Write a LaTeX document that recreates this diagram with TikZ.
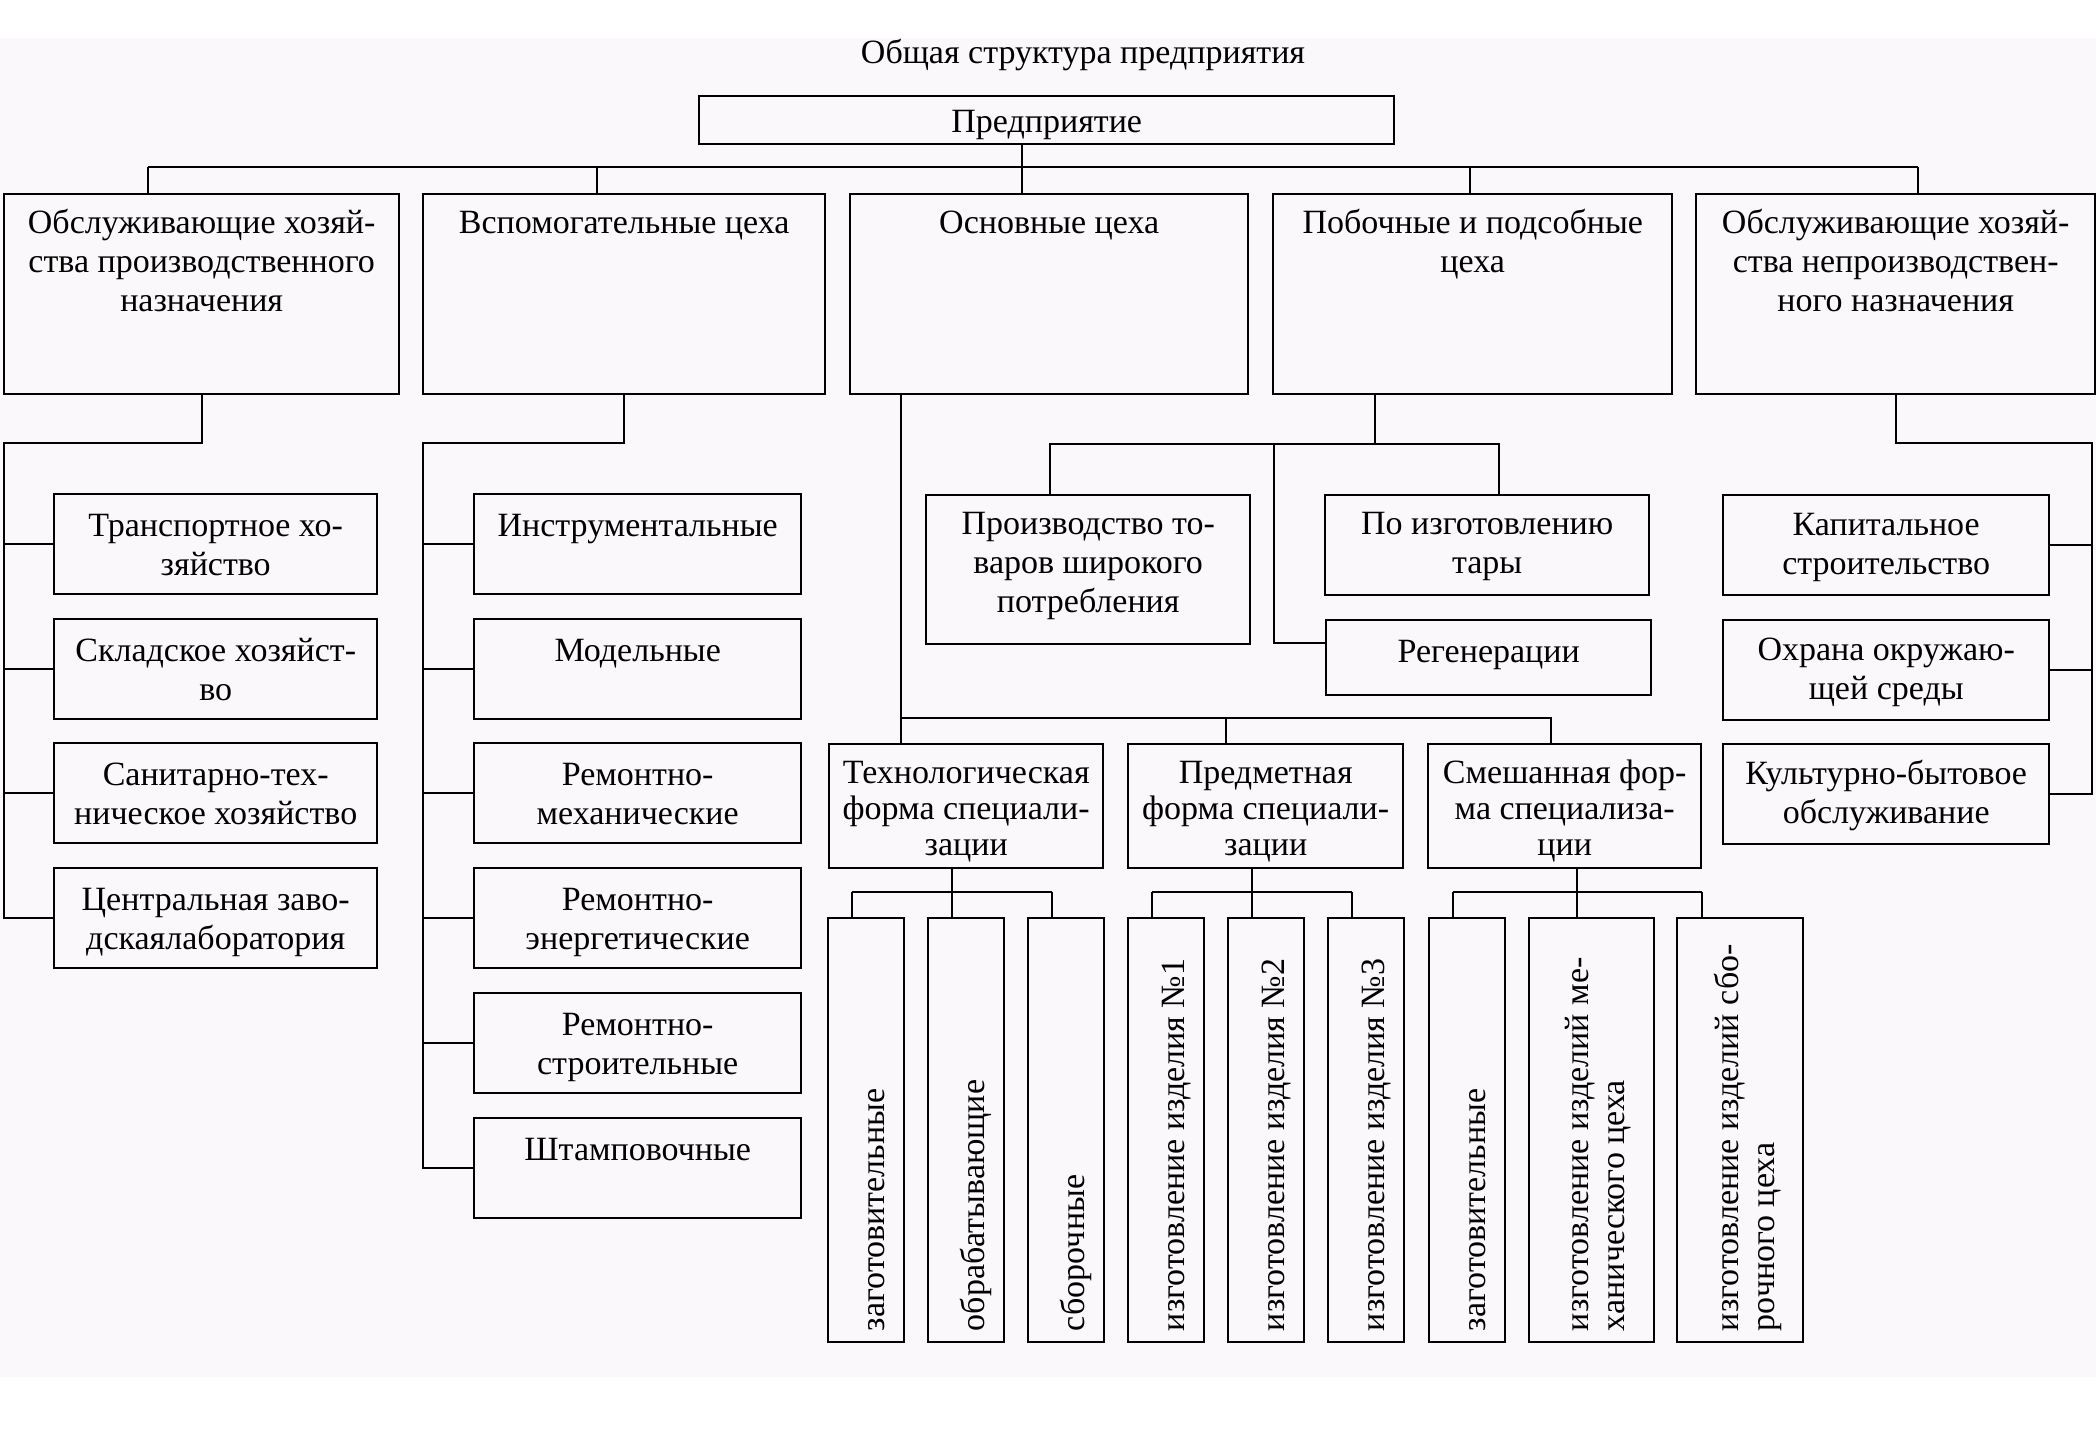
\documentclass[tikz,border=0pt]{standalone}
\usepackage{fontspec}
\setmainfont{Liberation Serif}
\usetikzlibrary{calc}

\newcommand{\cellfont}{\fontsize{17pt}{19.5pt}\selectfont}
\newcommand{\formfont}{\fontsize{17pt}{18pt}\selectfont}
\newcommand{\boxtxt}[4]{\parbox[c][#2][t]{#1}{\centering\vspace*{#3}\strut#4\par}}

\definecolor{paper}{RGB}{251,248,251}

\tikzset{
  cell/.style={draw, line width=1.2pt, inner sep=0pt, anchor=north west, font=\cellfont},
  bar/.style={line width=1.2pt},
  vtext/.style={rotate=90, anchor=west, align=left, inner sep=0pt, font=\cellfont},
}

\begin{document}
\begin{tikzpicture}[x=1pt, y=-1pt]
  \useasboundingbox (0,0) rectangle (1048,720);
  \fill[paper] (0,19) rectangle (1048,688.5);

  % title and enterprise
  \node[font=\cellfont, anchor=base] (title) at (541.5,31.5) {Общая структура предприятия};
  \node[cell] (ent) at (349,47.5) {\boxtxt{347.5pt}{24pt}{4.6pt}{Предприятие}};

  % main groups
  \node[cell] (b1) at (1.5,96.5) {\boxtxt{197.5pt}{100pt}{6pt}{Обслуживающие хозяй-\\ства производственного\\назначения}};
  \node[cell] (b2) at (211,96.5) {\boxtxt{201pt}{100pt}{6pt}{Вспомогательные цеха}};
  \node[cell] (b3) at (424.5,96.5) {\boxtxt{199pt}{100pt}{6pt}{Основные цеха}};
  \node[cell] (b4) at (636,96.5) {\boxtxt{199.5pt}{100pt}{6pt}{Побочные и подсобные\\цеха}};
  \node[cell] (b5) at (847.5,96.5) {\boxtxt{199.5pt}{100pt}{6pt}{Обслуживающие хозяй-\\ства непроизводствен-\\ного назначения}};

  \coordinate (j1) at (74,83.5);
  \coordinate (j2) at (298.5,83.5);
  \coordinate (j3) at (511,83.5);
  \coordinate (j4) at (735,83.5);
  \coordinate (j5) at (959,83.5);
  \draw[bar] (j1) -- (j5);
  \draw[bar] (j3 |- ent.south) -- (j3);
  \foreach \k in {1,...,5}
    \draw[bar] (j\k) -- (j\k |- b\k.north);

  % production service
  \node[cell] (a1) at (26.5,246.5) {\boxtxt{161.5pt}{50pt}{7.3pt}{Транспортное хо-\\зяйство}};
  \node[cell] (a2) at (26.5,309) {\boxtxt{161.5pt}{50pt}{7.3pt}{Складское хозяйст-\\во}};
  \node[cell] (a3) at (26.5,371) {\boxtxt{161.5pt}{50pt}{7.3pt}{Санитарно-тех-\\ническое хозяйство}};
  \node[cell] (a4) at (26.5,433.5) {\boxtxt{161.5pt}{50pt}{7.3pt}{Центральная заво-\\дскаялаборатория}};

  \coordinate (l1) at (2,221.5);
  \draw[bar] (b1.south) |- (l1) -- (l1 |- a4.west) -- (a4.west);
  \foreach \k in {1,2,3}
    \draw[bar] (l1 |- a\k.west) -- (a\k.west);

  % auxiliary shops
  \node[cell] (v1) at (236.5,246.5) {\boxtxt{163.5pt}{50pt}{7.3pt}{Инструментальные}};
  \node[cell] (v2) at (236.5,309) {\boxtxt{163.5pt}{50pt}{7.3pt}{Модельные}};
  \node[cell] (v3) at (236.5,371) {\boxtxt{163.5pt}{50pt}{7.3pt}{Ремонтно-\\механические}};
  \node[cell] (v4) at (236.5,433.5) {\boxtxt{163.5pt}{50pt}{7.3pt}{Ремонтно-\\энергетические}};
  \node[cell] (v5) at (236.5,496) {\boxtxt{163.5pt}{50pt}{7.3pt}{Ремонтно-\\строительные}};
  \node[cell] (v6) at (236.5,558.5) {\boxtxt{163.5pt}{50pt}{7.3pt}{Штамповочные}};

  \coordinate (l2) at (211.5,221.5);
  \draw[bar] (b2.south) |- (l2) -- (l2 |- v6.west) -- (v6.west);
  \foreach \k in {1,...,5}
    \draw[bar] (l2 |- v\k.west) -- (v\k.west);

  % side shops
  \node[cell] (pr) at (462.5,247) {\boxtxt{162pt}{74.5pt}{5.8pt}{Производство то-\\варов широкого\\потребления}};
  \node[cell] (ta) at (662,247) {\boxtxt{162pt}{50pt}{5.8pt}{По изготовлению\\тары}};
  \node[cell] (rg) at (662.5,309.5) {\boxtxt{162.5pt}{37.5pt}{7.3pt}{Регенерации}};

  \coordinate (p0) at (687.5,222);
  \coordinate (p1) at (525,222);
  \coordinate (p2) at (749.5,222);
  \coordinate (p3) at (637,222);
  \draw[bar] (p0 |- b4.south) -- (p0);
  \draw[bar] (p1 |- pr.north) -- (p1) -- (p2) -- (p2 |- ta.north);
  \draw[bar] (p3) |- ($(rg.north west)+(0,12)$);

  % non-production service
  \node[cell] (s1) at (861,247) {\boxtxt{163pt}{50pt}{6.3pt}{Капитальное\\строительство}};
  \node[cell] (s2) at (861,309.5) {\boxtxt{163pt}{50pt}{6.3pt}{Охрана окружаю-\\щей среды}};
  \node[cell] (s3) at (861,371.5) {\boxtxt{163pt}{50pt}{6.3pt}{Культурно-бытовое\\обслуживание}};

  \coordinate (l5) at (1046,221.5);
  \draw[bar] (b5.south) |- (l5) -- (l5 |- s3.east) -- (s3.east);
  \foreach \k in {1,2}
    \draw[bar] (l5 |- s\k.east) -- (s\k.east);

  % forms of specialisation
  \node[cell, font=\formfont] (tf) at (414,371.5) {\boxtxt{137pt}{62pt}{6.9pt}{Технологическая\\форма специали-\\зации}};
  \node[cell, font=\formfont] (pf) at (563.5,371.5) {\boxtxt{137.5pt}{62pt}{6.9pt}{Предметная\\форма специали-\\зации}};
  \node[cell, font=\formfont] (mf) at (713.5,371.5) {\boxtxt{136.5pt}{62pt}{6.9pt}{Смешанная фор-\\ма специализа-\\ции}};

  \coordinate (q0) at (450.5,359);
  \coordinate (q2) at (613,359);
  \coordinate (q3) at (775.5,359);
  \draw[bar] (q0 |- b3.south) -- (q0) -- (q0 |- tf.north);
  \draw[bar] (q0) -- (q3) -- (q3 |- mf.north);
  \draw[bar] (q2) -- (q2 |- pf.north);

  % shops
  \foreach \n/\xl/\w in {1/413.5/38, 2/463.5/38, 3/513.5/38, 4/563.5/38, 5/613.5/38,
                         6/663.5/38, 7/714/38, 8/764/62.5, 9/838/63}
    \node[cell, minimum width=\w pt, minimum height=212pt] (z\n) at (\xl,458.5) {};

  \foreach \n/\d/\t in {1/5/заготовительные, 2/5/обрабатывающие, 3/5/сборочные,
                        4/5/{изготовление изделия №1}, 5/5/{изготовление изделия №2},
                        6/5/{изготовление изделия №3}, 7/5/заготовительные,
                        8/3/{изготовление изделий ме-\\ханического цеха},
                        9/4/{изготовление изделий сбо-\\рочного цеха}}
    \node[vtext, font=\formfont] (t\n) at ($(z\n.south)+(\d,-6)$) {\t};

  \foreach \n/\x in {1/426, 2/476, 3/526, 4/576, 5/626, 6/676, 7/726.5, 8/788.5, 9/851}
    \coordinate (k\n) at (\x,446);
  \draw[bar] (k1) -- (k3);
  \draw[bar] (k4) -- (k6);
  \draw[bar] (k7) -- (k9);
  \draw[bar] (tf.south -| k2) -- (k2);
  \draw[bar] (pf.south -| k5) -- (k5);
  \draw[bar] (mf.south -| k8) -- (k8);
  \foreach \k in {1,...,9}
    \draw[bar] (k\k) -- (k\k |- z\k.north);

\end{tikzpicture}
\end{document}
